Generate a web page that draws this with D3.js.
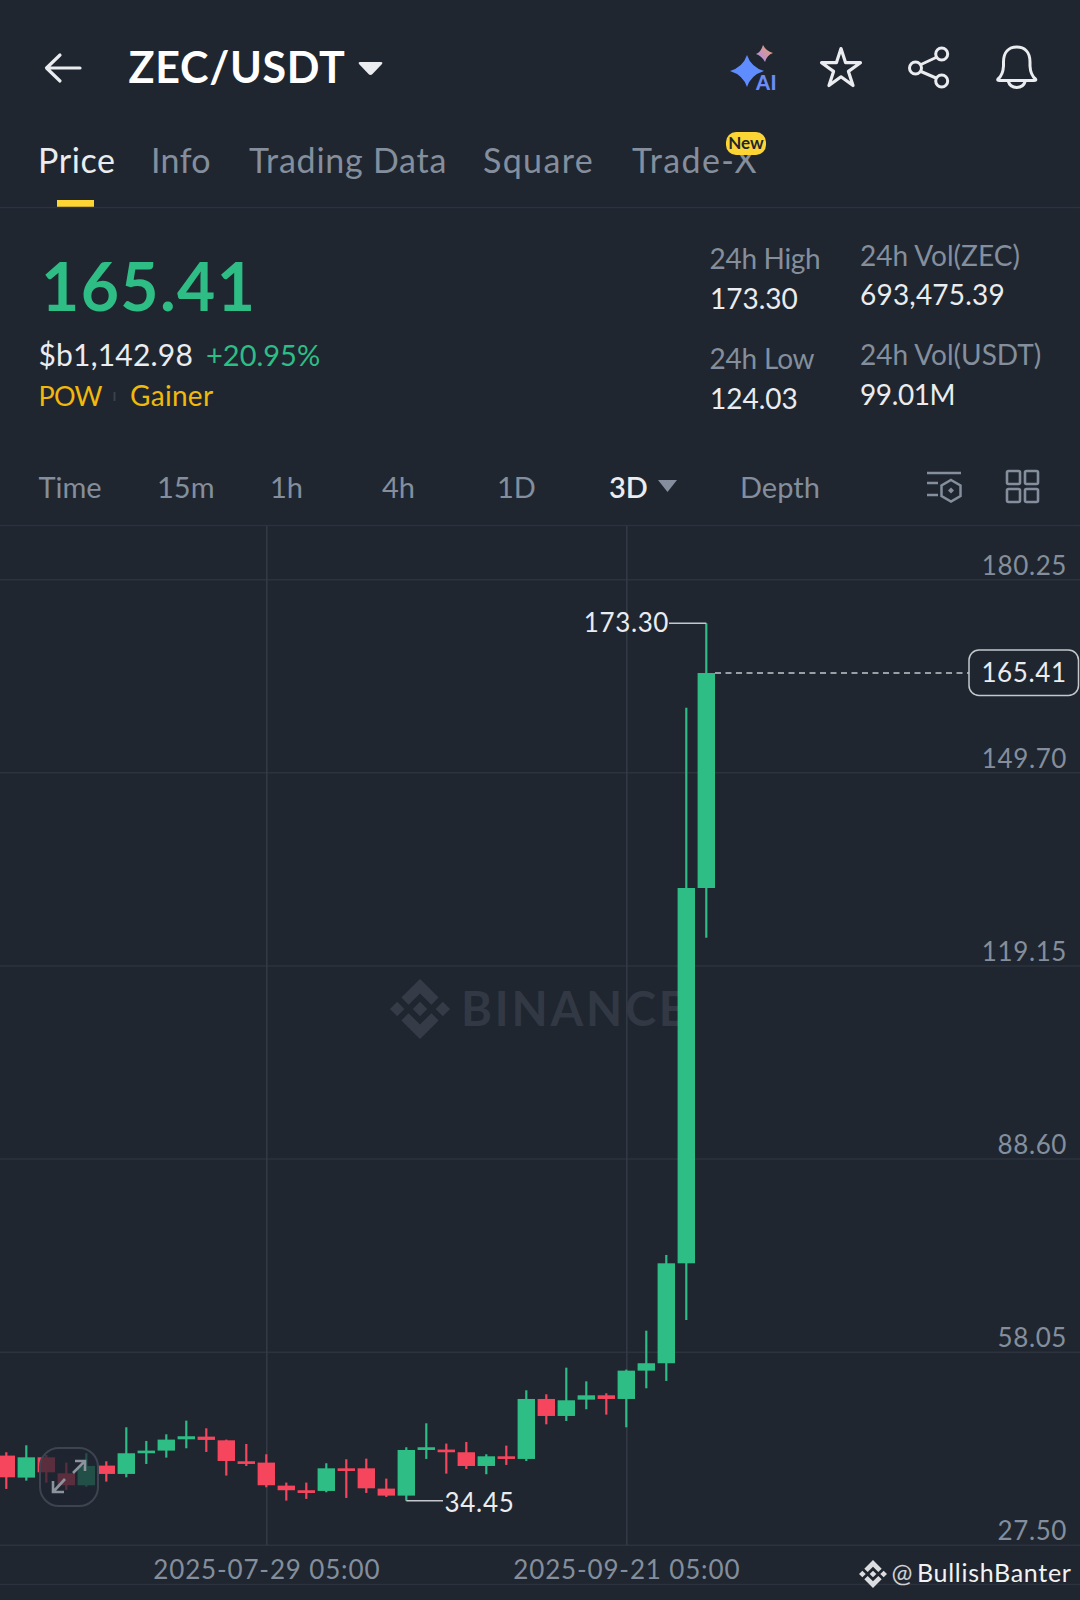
<!DOCTYPE html>
<meta charset="utf-8" />
<title>ZEC/USDT</title>
<style>
  html, body { margin: 0; padding: 0; background: #1f2630; }
  svg { display: block; }
  text { font-family: Lato, "Open Sans", sans-serif; }
</style>
<script src="https://d3js.org/d3.v7.min.js"></script>
<body>
<script>
  // 3D candles
  var dates  = ['06-20','06-23','06-26','06-29','07-02','07-05','07-08','07-11','07-14','07-17','07-20','07-23',
                '07-26','07-29','08-01','08-04','08-07','08-10','08-13','08-16','08-19','08-22','08-25','08-28',
                '08-31','09-03','09-06','09-09','09-12','09-15','09-18','09-21','09-24','09-27','09-30','10-03'];
  var opens  = [41.61,38.13,41.34,38.81,36.92,40.03,38.71,41.98,42.40,44.19,44.61,44.03,
                40.71,40.50,36.86,36.13,36.02,39.60,39.60,36.39,35.28,42.50,42.56,42.14,
                39.97,41.50,41.08,50.57,47.88,50.46,51.15,50.57,55.05,56.22,72.03,131.40];
  var highs  = [42.14,43.24,41.71,40.50,41.98,40.71,46.09,43.93,44.98,47.14,45.93,44.14,
                43.45,41.82,37.34,37.34,40.40,41.03,41.13,37.97,42.93,46.72,43.51,43.77,
                41.82,43.19,51.94,51.31,55.52,53.36,51.47,55.21,61.37,73.35,159.92,173.30];
  var lows   = [36.34,37.65,37.34,36.18,36.71,37.50,38.18,40.29,41.29,42.77,42.19,38.45,
                39.97,36.60,34.49,34.76,35.81,34.91,35.70,35.07,34.45,41.08,38.76,39.50,
                38.66,40.13,40.76,46.56,47.09,48.94,48.09,46.09,52.26,53.42,63.06,123.54];
  var closes = [38.18,41.34,38.97,36.92,39.97,38.71,41.98,42.40,44.14,44.67,44.09,40.76,
                40.29,36.92,36.13,35.70,39.60,39.18,36.44,35.28,42.50,42.93,42.14,39.97,
                41.50,41.08,50.57,47.88,50.36,51.15,50.57,55.05,56.22,72.03,131.40,165.41];

  var priceTicks = [180.25,149.70,119.15,88.60,58.05,27.50];
  var dateTicks  = ['07-29','09-21'];
  var lastPrice  = 165.41;

  var bg = '#1f2630', green = '#2ebd85', red = '#f6465d', grey = '#848e9c',
      light = '#eaecef', yellow = '#f0b90b', line = '#2c333e';

  var W = 1080, H = 1600;
  var svg = d3.select('body').append('svg').attr('width', W).attr('height', H);

  var parseDate = d3.utcParse('%Y-%m-%d %H:%M');
  function toDate(s) { return parseDate('2025-' + s + ' 05:00'); }

  var x = d3.scaleUtc().domain([toDate(dates[0]), toDate(dates[dates.length - 1])]).range([6.3, 706.3]);
  var y = d3.scaleLinear().domain([27.50, 180.25]).range([1544.8, 579.2]);

  // plain text helper, ls is the letter spacing that makes Lato as wide as the screenshot font
  function label(t, px, py, size, fill, weight, anchor, ls) {
    return svg.append('text').attr('x', px).attr('y', py)
      .attr('font-size', size).attr('fill', fill)
      .attr('font-weight', weight || 400)
      .attr('letter-spacing', ls || 0)
      .attr('text-anchor', anchor || 'start').text(t);
  }

  function hline(py) {
    svg.append('line').attr('x1', 0).attr('x2', W).attr('y1', py).attr('y2', py)
      .attr('stroke', line).attr('stroke-width', 1.5);
  }

  function binanceLogo(g, cx, cy, r, fill) {
    var d = function(px, py, h) { return [[px, py - h], [px + h, py], [px, py + h], [px - h, py]]; };
    var top = [[0,-1],[.62,-.38],[.38,-.14],[0,-.52],[-.38,-.14],[-.62,-.38]];
    var bot = top.map(function(p) { return [p[0], -p[1]]; });
    [d(0,0,.24), d(-.76,0,.24), d(.76,0,.24), top, bot].forEach(function(pts) {
      g.append('polygon')
        .attr('points', pts.map(function(p) { return (cx + p[0]*r) + ',' + (cy + p[1]*r); }).join(' '))
        .attr('fill', fill);
    });
  }

  // ---- header
  svg.append('path').attr('d', 'M80 68H47M60 55L46.5 68L60 81')
    .attr('fill', 'none').attr('stroke', light).attr('stroke-width', 3.2).attr('stroke-linecap', 'round').attr('stroke-linejoin', 'round');
  label('ZEC/USDT', 128.5, 82.5, 43, '#ffffff', 700, 'start', 0.7);
  svg.append('path').attr('d', 'M360 62H381Q383 62 382 64L372.5 74Q370.5 76 368.5 74L359 64Q358 62 360 62Z').attr('fill', light);

  // AI icon
  var defs = svg.append('defs');
  var grad = defs.append('linearGradient').attr('id', 'sparkle').attr('x1', 0).attr('x2', 1).attr('y1', 1).attr('y2', 0);
  grad.append('stop').attr('offset', '0%').attr('stop-color', '#a78bfa');
  grad.append('stop').attr('offset', '100%').attr('stop-color', '#f0a060');
  svg.append('path').attr('d', 'M747 55Q751 67 764 71Q751 75 747 87Q743 75 730 71Q743 67 747 55Z').attr('fill', '#5f8cff');
  svg.append('path').attr('d', 'M763 45Q766 51 773 53Q767 55 765 62Q762 56 756 54Q761 52 763 45Z').attr('fill', 'url(#sparkle)');
  label('AI', 756, 90, 20, '#6d8cf5', 900, 'start', 0.5);

  // star, share, bell
  svg.append('path').attr('d', d3.symbol().type(d3.symbolStar).size(470)())
    .attr('transform', 'translate(841,69)').attr('fill', 'none')
    .attr('stroke', light).attr('stroke-width', 3.2).attr('stroke-linejoin', 'round');
  svg.append('path').attr('d', 'M936 57.5L921 64.5M921 71.5L936 78')
    .attr('stroke', light).attr('stroke-width', 3).attr('fill', 'none');
  [[941.7,54],[915.5,68],[941.7,81]].forEach(function(c) {
    svg.append('circle').attr('cx', c[0]).attr('cy', c[1]).attr('r', 6)
      .attr('fill', 'none').attr('stroke', light).attr('stroke-width', 3);
  });
  svg.append('path').attr('d', 'M998 79Q1003 75 1003.5 66V62C1003.5 52 1009 47 1016.7 47C1024.5 47 1030 52 1030 62V66Q1030.5 75 1035.5 79Q1036.5 80.5 1034 80.5H999.5Q997 80.5 998 79ZM1008 80.5Q1010 87.5 1016.7 87.5Q1023.5 87.5 1025.5 80.5')
    .attr('fill', 'none').attr('stroke', light).attr('stroke-width', 3).attr('stroke-linejoin', 'round');

  // ---- tabs
  label('Price', 38, 173, 34, light, 400, 'start', 0.6);
  label('Info', 151, 173, 34, grey, 400, 'start', 0.35);
  label('Trading Data', 249, 173, 34, grey, 400, 'start', 0.75);
  label('Square', 483, 173, 34, grey, 400, 'start', 1.36);
  label('Trade-X', 632, 173, 34, grey, 400, 'start', 1.4);
  svg.append('rect').attr('x', 726).attr('y', 132).attr('width', 40).attr('height', 23).attr('rx', 10).attr('fill', '#fcd535');
  label('New', 746, 149, 17, '#1f2630', 700, 'middle');
  svg.append('rect').attr('x', 57).attr('y', 200).attr('width', 37).attr('height', 7).attr('fill', '#fcd535');
  hline(207.5);

  // ---- price block
  label('165.41', 41, 311, 66, green, 700, 'start', 1.4);
  label('$b1,142.98', 38.5, 366, 30, light, 400, 'start', 0.2);
  label('+20.95%', 206, 366, 29, green);
  label('POW', 38.5, 406, 27, yellow, 400, 'start', -0.8);
  svg.append('rect').attr('x', 113.5).attr('y', 392).attr('width', 2).attr('height', 9).attr('fill', '#3a414c');
  label('Gainer', 130, 406, 28, yellow, 400, 'start', 0.3);

  label('24h High', 709.5, 269, 28, grey, 400, 'start', -0.3);
  label('173.30', 710, 309, 28, light);
  label('24h Low', 709.5, 369, 28, grey, 400, 'start', -0.2);
  label('124.03', 710, 409, 28, light);
  label('24h Vol(ZEC)', 860, 266, 28, grey);
  label('693,475.39', 860, 305, 28, light, 400, 'start', 0.2);
  label('24h Vol(USDT)', 860, 365, 28, grey);
  label('99.01M', 860, 405, 28, light, 400, 'start', -0.4);

  // ---- interval row
  label('Time', 38.5, 498, 29, grey);
  label('15m', 157, 498, 29, grey);
  label('1h', 270, 498, 29, grey);
  label('4h', 382, 498, 29, grey);
  label('1D', 497, 498, 29, grey);
  label('3D', 609, 498, 29, light, 600);
  svg.append('path').attr('d', 'M658 480H677L667.5 492Z').attr('fill', grey);
  label('Depth', 740, 498, 29, grey);
  svg.append('path').attr('d', 'M927 473H961M927 483H938M927 495H938M951 480L960.5 485.5V496L951 501.5L941.5 496V485.5Z')
    .attr('fill', 'none').attr('stroke', grey).attr('stroke-width', 2.5);
  svg.append('path').attr('d', 'M951 487.5L954 490.5L951 493.5L948 490.5Z').attr('fill', grey);
  [[1007,471],[1025,471],[1007,489],[1025,489]].forEach(function(c) {
    svg.append('rect').attr('x', c[0]).attr('y', c[1]).attr('width', 13).attr('height', 13).attr('rx', 1.5)
      .attr('fill', 'none').attr('stroke', grey).attr('stroke-width', 2.6);
  });
  hline(525.5);

  // ---- chart grid
  var priceAxis = d3.axisRight(y).tickValues(priceTicks).tickSize(W)
    .tickFormat(function(d) { return d.toFixed(2); });
  var gy = svg.append('g').call(priceAxis);
  gy.select('.domain').remove();
  gy.selectAll('line').attr('stroke', line).attr('stroke-width', 1.5);

  var dateAxis = d3.axisBottom(x).tickValues(dateTicks.map(toDate)).tickSize(-(1545 - 526))
    .tickFormat(d3.utcFormat('%Y-%m-%d %H:%M'));
  var gx = svg.append('g').attr('transform', 'translate(0,1545)').call(dateAxis);
  gx.select('.domain').remove();
  gx.selectAll('line').attr('stroke', '#343b46').attr('stroke-width', 1.5);
  gx.selectAll('text').attr('y', 34).attr('dy', 0).attr('font-size', 26).attr('fill', grey)
    .attr('letter-spacing', 0.85).attr('font-family', 'Lato');

  gy.selectAll('text').attr('x', 1067).attr('dy', -5).attr('text-anchor', 'end')
    .attr('font-size', 26).attr('fill', grey).attr('letter-spacing', 0.6).attr('font-family', 'Lato');
  hline(1584.5);

  // watermark sits behind the candles
  binanceLogo(svg.append('g'), 420, 1009, 30, '#353c47');
  label('BINANCE', 461, 1026, 47, '#323944', 700, 'start', 2.8);

  // ---- candles
  var candles = dates.map(function(d, i) {
    return { date: toDate(d), open: opens[i], high: highs[i], low: lows[i], close: closes[i] };
  });
  var bw = 17.4;
  var gc = svg.append('g').selectAll('g').data(candles).join('g')
    .attr('fill', function(d) { return d.close >= d.open ? green : red; })
    .attr('stroke', function(d) { return d.close >= d.open ? green : red; });
  gc.append('line')
    .attr('x1', function(d) { return x(d.date); }).attr('x2', function(d) { return x(d.date); })
    .attr('y1', function(d) { return y(d.high); }).attr('y2', function(d) { return y(d.low); })
    .attr('stroke-width', 2.2);
  gc.append('rect')
    .attr('x', function(d) { return x(d.date) - bw / 2; })
    .attr('width', bw).attr('stroke', 'none')
    .attr('y', function(d) { return y(Math.max(d.open, d.close)); })
    .attr('height', function(d) { return Math.max(2, Math.abs(y(d.open) - y(d.close))); });

  // high, low and last price markers
  var hiX = x(toDate(dates[35])), loX = x(toDate(dates[20]));
  svg.append('path').attr('d', 'M669 ' + y(d3.max(highs)) + 'H' + hiX).attr('stroke', '#c4c7cc').attr('stroke-width', 1.5).attr('fill', 'none');
  label(d3.max(highs).toFixed(2), 669, 632, 26, light, 400, 'end', 0.6);
  svg.append('path').attr('d', 'M' + loX + ' ' + y(d3.min(lows)) + 'H443').attr('stroke', '#c4c7cc').attr('stroke-width', 1.5).attr('fill', 'none');
  label(d3.min(lows).toFixed(2), 444.5, 1512, 26, light, 400, 'start', 0.7);

  svg.append('line').attr('x1', 715).attr('x2', 969).attr('y1', y(lastPrice)).attr('y2', y(lastPrice))
    .attr('stroke', '#c4c7cc').attr('stroke-width', 1.4).attr('stroke-dasharray', '6 4.5');
  svg.append('rect').attr('x', 969).attr('y', 650).attr('width', 109.5).attr('height', 45.5).attr('rx', 10)
    .attr('fill', bg).attr('stroke', '#c4c7cc').attr('stroke-width', 1.5);
  label(lastPrice.toFixed(2), 1024, 682, 26, light, 400, 'middle', 0.6);

  // expand button, over the candles
  svg.append('rect').attr('x', 40).attr('y', 1448).attr('width', 58).attr('height', 58).attr('rx', 19)
    .attr('fill', bg).attr('fill-opacity', 0.72).attr('stroke', '#3d444f').attr('stroke-width', 2);
  svg.append('path').attr('d', 'M73 1473L84 1462M75 1461H85V1471M65 1479L54 1491M53 1481V1492H64')
    .attr('fill', 'none').attr('stroke', '#8d939c').attr('stroke-width', 2.6);

  // bottom right mark
  binanceLogo(svg.append('g'), 873, 1574, 14, '#dcdde0');
  label('@', 891.5, 1582, 25, '#cfd0d3').attr('font-family', 'Noto Sans');
  label('BullishBanter', 917, 1582, 25, '#f2f2f2', 400, 'start', 0.7).attr('font-family', 'Noto Sans');
</script>
</body>
